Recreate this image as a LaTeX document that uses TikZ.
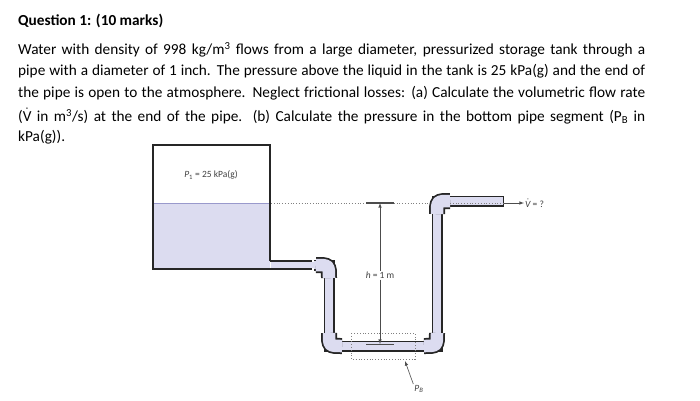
\documentclass[tikz,border=0pt]{standalone}
\usepackage{fontspec}
\setmainfont{Carlito}
\newcommand{\vdotx}{\ensuremath{\dot{\mbox{V}}}}
\begin{document}
\begin{tikzpicture}[x=1bp,y=-1bp,
  para/.style={anchor=north west,inner sep=0pt,text width=627bp,align=justify,font=\fontsize{15.3bp}{17bp}\selectfont},
  lbl/.style={inner sep=1pt,font=\fontsize{9.5bp}{10bp}\selectfont,text=black!75},
  pipeo/.style={line width=11bp,draw=black!85},
  pipei/.style={line width=7.5bp,draw=liq},
  elbo/.style={line width=16bp,draw=black!85},
  elbi/.style={line width=12.5bp,draw=liq},
  dim/.style={draw=black!70,line width=0.6bp},
  dot/.style={draw=black!50,dotted,line width=0.8bp}]
\definecolor{liq}{RGB}{220,220,240}
\useasboundingbox (0,0) rectangle (700,400);
\node[anchor=north west,inner sep=0pt,font=\fontsize{15.3bp}{17bp}\selectfont\bfseries] (title) at (18,14) {Question 1: (10 marks)};
\node[para] (l1) at (18,42) {\parfillskip=0pt Water with density of 998 kg/m\textsuperscript{3} flows from a large diameter, pressurized storage tank through a\par};
\node[para] (l2) at (18,64) {\parfillskip=0pt pipe with a diameter of 1 inch. The pressure above the liquid in the tank is 25 kPa(g) and the end of\par};
\node[para] (l3) at (18,86) {\parfillskip=0pt the pipe is open to the atmosphere. Neglect frictional losses: (a) Calculate the volumetric flow rate\par};
\node[para] (l4) at (18,108) {\parfillskip=0pt (\vdotx\ in m\textsuperscript{3}/s) at the end of the pipe. (b) Calculate the pressure in the bottom pipe segment (P\textsubscript{B} in\par};
\node[para] (l5) at (18,130) {kPa(g)).};
% tank
\fill[liq] (153,203) rectangle (270,269);
\draw[line width=0.8bp,draw=black!50!blue!40] (153,203) -- (270,203);
\draw[line width=1.3bp,black!85] (270,261) -- (270,145) -- (153,145) -- (153,269) -- (312,269);
\draw[line width=1.3bp,black!85] (270,261) -- (312,261);
\node[lbl] (p1) at (211,175) {\textit{P}\textsubscript{1} = 25 kPa(g)};
% dotted level
\draw[dot] (271,203) -- (505,203);
% pipe
\draw[pipeo] (314,265) -- (329,265) -- (329,346) -- (437,346) -- (437,201) -- (505,201);
\draw[pipei] (314,265) -- (329,265) -- (329,346) -- (437,346) -- (437,201) -- (503,201);
\fill[liq] (270.7,261.7) rectangle (316,268.3);
\foreach \a/\b/\c in {{316,265}/{329,265}/{329,278},{329,333}/{329,346}/{342,346},{424,346}/{437,346}/{437,333},{437,214}/{437,201}/{450,201}}{
  \draw[elbo] (\a) .. controls (\b) .. (\c);
  \draw[elbi] (\a) .. controls (\b) .. (\c);
}
\draw[dot] (450,203) -- (505,203);
\draw[white,line width=2bp] (505,194) -- (505,208);
% outflow arrow
\coordinate (pe) at (504,203);
\node[lbl,anchor=west] (vd) at (524,203) {\textit{\vdotx} = ?};
\draw[dim,-latex] (pe) -- (vd.west);
% h dimension
\coordinate (ht) at (380,203);
\coordinate (hb) at (380,344);
\draw[black!70,line width=1.2bp] (366,203) -- (394,203);
\draw[black!70,line width=1bp] (366,344) -- (394,344);
\node[lbl,fill=white] (h) at (380,275) {\textit{h} = 1 m};
\draw[dim,-latex] (h.north) -- (ht);
\draw[dim,-latex] (h.south) -- (hb);
% dashed box
\draw[dot] (351,333) rectangle (415,359);
\coordinate (bx) at (405,361);
\node[lbl] (pb) at (419,389) {\textit{P}\textsubscript{\textit{B}}};
\draw[dim,-latex] (pb.north west) -- (bx);
\end{tikzpicture}
\end{document}
